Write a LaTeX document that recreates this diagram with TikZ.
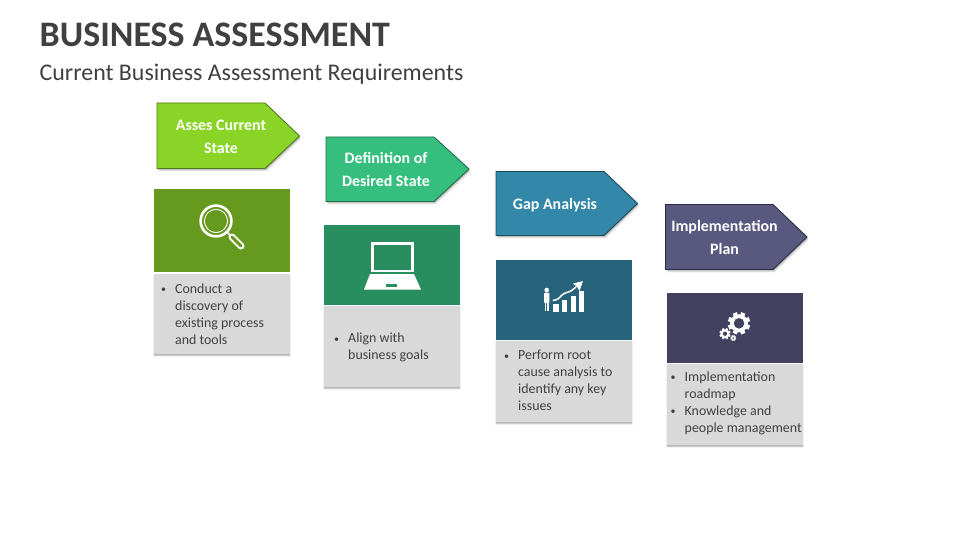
\documentclass[tikz,border=0pt]{standalone}
\usepackage{fontspec}
\usepackage{graphicx}
\setmainfont{Carlito}
\usetikzlibrary{shadows,calc}
\definecolor{txt}{HTML}{404040}
\definecolor{pa}{HTML}{8AD327}\definecolor{pab}{HTML}{4F7A17}\definecolor{ra}{HTML}{669A1F}
\definecolor{pb}{HTML}{36BE7F}\definecolor{pbb}{HTML}{1F6E49}\definecolor{rb}{HTML}{288D5F}
\definecolor{pc}{HTML}{3387A8}\definecolor{pcb}{HTML}{1C4A5C}\definecolor{rc}{HTML}{27637A}
\definecolor{pd}{HTML}{59587F}\definecolor{pdb}{HTML}{2E2D45}\definecolor{rd}{HTML}{434160}
\definecolor{gr}{HTML}{D9D9D9}
\tikzset{
  softshadow/.style={preaction={fill=black,opacity=.08,transform canvas={xshift=1.8pt,yshift=-2.8pt}},
                     preaction={fill=black,opacity=.12,transform canvas={xshift=1.2pt,yshift=-1.8pt}},
                     preaction={fill=black,opacity=.16,transform canvas={xshift=.6pt,yshift=-.9pt}}},
  boxshadow/.style={preaction={fill=black,opacity=.06,draw=black,draw opacity=.05,line width=1.6pt,transform canvas={yshift=-1.8pt}},
                     preaction={fill=black,opacity=.10,transform canvas={yshift=-1.8pt}},
                     preaction={fill=black,opacity=.14,transform canvas={yshift=-.9pt}}},
  penta/.style={softshadow,line width=.9pt,line join=miter},
  graybox/.style={fill=gr,boxshadow},
  headtext/.style={text=white,font=\fontsize{15.9}{23}\selectfont\bfseries,align=center,inner sep=0pt},
  listtext/.style={text=txt,font=\fontsize{13.9}{17}\selectfont,align=left,anchor=west,inner sep=0pt},
}
\newcommand{\bulitem}{\llap{\raisebox{.6pt}{\scalebox{.72}{•}}\hspace{9pt}}}
\newcommand{\gearicon}[5]{% cx cy outer hole teeth-width
  \fill[white,even odd rule] (#1,#2) circle[radius=#3*.8] (#1,#2) circle[radius=#4];
  \foreach \a in {0,45,...,315}{
    \fill[white,shift={(#1,#2)},rotate=\a+22.5] (#3*.7,-#5) rectangle (#3,#5);
  }
}
\begin{document}
\begin{tikzpicture}[x=1pt,y=-1pt]
\useasboundingbox (0,0) rectangle (960,540);
\fill[white] (0,0) rectangle (960,540);
\node[anchor=west,inner sep=0pt,text=txt,font=\fontsize{35.9}{40}\selectfont\bfseries] (title) at (39.5,34.5) {BUSINESS ASSESSMENT};
\node[anchor=west,inner sep=0pt,text=txt,font=\fontsize{23.9}{28}\selectfont] (subtitle) at (39.5,74.7) {Current Business Assessment Requirements};
% pentagons
\draw[penta,fill=pa,draw=pab] (157,103) -- (265,103) -- (299.5,136) -- (265,168.5) -- (157,168.5) -- cycle;
\draw[penta,fill=pb,draw=pbb] (326,137) -- (434,137) -- (469,169) -- (434,201.5) -- (326,201.5) -- cycle;
\draw[penta,fill=pc,draw=pcb] (496,171.5) -- (604,171.5) -- (637.5,203.5) -- (604,235.5) -- (496,235.5) -- cycle;
\draw[penta,fill=pd,draw=pdb] (665.5,204.5) -- (773,204.5) -- (807,237) -- (773,269.5) -- (665.5,269.5) -- cycle;
\node[headtext] (h1) at (221,136.5) {Asses Current\\State};
\node[headtext] (h2) at (386,169.5) {Definition of\\Desired State};
\node[headtext] (h3) at (555,205) {Gap Analysis};
\node[headtext] (h4) at (724.5,237) {Implementation\\Plan};
% gray boxes
\path[graybox] (154,273.5) rectangle (290,354);
\path[graybox] (324,306) rectangle (460,387);
\path[graybox] (496,341) rectangle (632,422);
\path[graybox] (667,364) rectangle (803,445);
% coloured boxes
\fill[ra] (154,189) rectangle (290,272);
\fill[rb] (324,225) rectangle (460,305);
\fill[rc] (496,260) rectangle (632,340);
\fill[rd] (667,293) rectangle (803,363);
% lists
\node[listtext] (l1) at (175,314) {\bulitem Conduct a\\discovery of\\existing process\\and tools};
\node[listtext] (l2) at (348,347.5) {\bulitem Align with\\business goals};
\node[listtext] (l3) at (518,380.5) {\bulitem Perform root\\cause analysis to\\identify any key\\issues};
\node[listtext] (l4) at (684.5,403) {\bulitem Implementation\\roadmap\\\bulitem Knowledge and\\people management};
% magnifier
\draw[white,line width=2.6pt] (216,221) circle[radius=15.4];
\draw[white,line width=.9pt] (216,221) circle[radius=11.6];
\draw[white,line width=1.6pt] (227.5,232.5) -- (231,236);
\draw[white,line width=7pt,line cap=round] (232,237) -- (241,246);
\draw[ra,line width=3pt,line cap=round] (232,237) -- (241,246);
% laptop
\draw[white,line width=2.6pt] (372.5,243.5) rectangle (412.5,271);
\fill[white] (370,274) -- (414,274) -- (421,289.5) -- (364,289.5) -- cycle;
\fill[rb] (386,284) rectangle (397,287);
% chart
\fill[white] (546.7,290) circle[radius=2.3];
\fill[white,rounded corners=.8pt] (544,292.7) rectangle (549.3,303);
\fill[white] (544.6,302) rectangle (546.4,311);
\fill[white] (547,302) rectangle (548.8,311);
\fill[white] (553.3,303.5) rectangle (558.7,311.5);
\fill[white] (562.3,299.5) rectangle (567.4,311.5);
\fill[white] (570.7,295.5) rectangle (575.7,311.5);
\fill[white] (579,291) rectangle (583.7,311.5);
\draw[white,line width=1.5pt] (552.7,300.5) .. controls (558,300) and (559,298) .. (562,295) .. controls (565,292) and (568,293) .. (571,291) -- (576,287);
\fill[white] (583,281) -- (579.5,291) -- (577.5,287.5) -- (573,283.5) -- cycle;
% gears
\gearicon{739}{323.3}{11.2}{5.4}{2.2}
\gearicon{725}{333.7}{5.6}{2.3}{1.1}
\gearicon{733.3}{338}{2.9}{1.1}{.6}
\end{tikzpicture}
\end{document}
